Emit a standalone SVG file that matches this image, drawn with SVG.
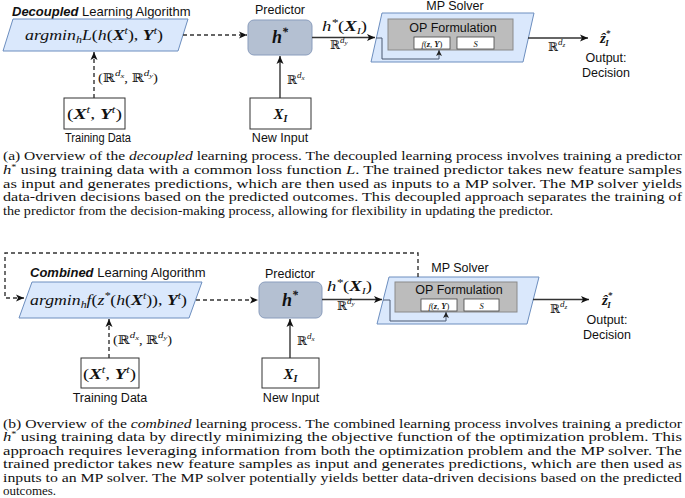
<svg xmlns="http://www.w3.org/2000/svg" width="685" height="498" viewBox="0 0 685 498">
<style>
.lbl{font-family:"Liberation Sans",Arial,sans-serif;font-size:12.5px;fill:#111}
.ttl{font-family:"Liberation Sans",Arial,sans-serif;font-size:13px;fill:#111}
.m{font-family:"Liberation Serif","DejaVu Serif",serif;font-style:italic;fill:#111}
.u{font-style:normal}
.b{font-weight:bold}
.R{font-family:"DejaVu Serif","Liberation Serif",serif;font-style:normal;font-size:12px}
.cap{font-family:"Liberation Serif","Times New Roman",serif;font-size:13px;fill:#111}
.sh{fill:#dae8fc;stroke:#6c8ebf;stroke-width:1}
.pred{fill:#b4c0d2;stroke:#8a9dbd;stroke-width:1}
.op{fill:#bcbcbc;stroke:#8a8a8a;stroke-width:1}
.wb{fill:#fff;stroke:#333;stroke-width:1}
.sb{fill:#fff;stroke:#444;stroke-width:0.8}
.c{stroke:#333;stroke-width:1.4;fill:none}
.ci{stroke:#4a5870;stroke-width:1;fill:none}
.d{stroke-dasharray:4 3}
</style>
<defs>
<marker id="ah" markerUnits="userSpaceOnUse" markerWidth="9" markerHeight="8" refX="8" refY="4" orient="auto">
<path d="M0,0.5 L8,4 L0,7.5 L2,4 Z" fill="#111"/>
</marker>
<marker id="as" markerUnits="userSpaceOnUse" markerWidth="7" markerHeight="6" refX="6" refY="3" orient="auto">
<path d="M0,0 L6,3 L0,6 L1.5,3 Z" fill="#222"/>
</marker>
</defs>

<!-- ================= TOP (a) ================= -->
<g id="a-learning">
<text class="ttl" x="12" y="16"><tspan class="b" font-style="italic">Decoupled</tspan> Learning Algorithm</text>
<polygon class="sh" points="13,19 188,19 178,51 3,51"/>
<text class="m" x="94" y="40" font-size="15" text-anchor="middle" textLength="138" lengthAdjust="spacingAndGlyphs">argmin<tspan font-size="10" dy="3">h</tspan><tspan dy="-3">L</tspan><tspan class="u">(</tspan>h<tspan class="u">(</tspan><tspan class="b">X</tspan><tspan font-size="10" dy="-6">t</tspan><tspan class="u" dy="6">), </tspan><tspan class="b">Y</tspan><tspan font-size="10" dy="-6">t</tspan><tspan class="u" dy="6">)</tspan></text>
</g>
<g id="a-predictor">
<text class="lbl" x="280" y="14" text-anchor="middle">Predictor</text>
<rect class="pred" x="248" y="20" width="64" height="35" rx="6"/>
<text class="m b" x="280" y="43" font-size="18" text-anchor="middle">h<tspan font-size="12" dy="-7">*</tspan></text>
</g>
<g id="a-solver">
<text class="lbl" x="455" y="10" text-anchor="middle">MP Solver</text>
<polygon class="sh" points="382,13 534,13 523,62 371,62"/>
<rect class="op" x="388" y="19" width="125" height="31"/>
<text class="lbl" x="453" y="32" font-size="12.8" text-anchor="middle">OP Formulation</text>
<rect class="sb" x="414" y="37" width="36" height="12"/>
<text class="m" x="432" y="46.5" font-size="8.5" text-anchor="middle">f<tspan class="u">(</tspan><tspan class="b">z</tspan><tspan class="u">, </tspan><tspan class="b">Y</tspan><tspan class="u">)</tspan></text>
<rect class="sb" x="457" y="37" width="37" height="12"/>
<text class="m" x="475.5" y="46.5" font-size="8.5" text-anchor="middle">S</text>
</g>
<g id="a-output">
<text class="m b" x="600" y="43" font-size="15">ẑ<tspan font-size="9" dy="-7">*</tspan><tspan font-size="9" dx="-5" dy="10">I</tspan></text>
<text class="lbl" x="606" y="62" text-anchor="middle">Output:</text>
<text class="lbl" x="606" y="77" text-anchor="middle">Decision</text>
</g>
<g id="a-training">
<rect class="wb" x="64" y="98" width="61" height="31"/>
<text class="m" x="94.5" y="119" font-size="15" text-anchor="middle" textLength="55" lengthAdjust="spacingAndGlyphs"><tspan class="u">(</tspan><tspan class="b">X</tspan><tspan font-size="10" dy="-6">t</tspan><tspan class="u" dy="6">, </tspan><tspan class="b">Y</tspan><tspan font-size="10" dy="-6">t</tspan><tspan class="u" dy="6">)</tspan></text>
<text class="lbl" x="98" y="142" text-anchor="middle" textLength="66" lengthAdjust="spacingAndGlyphs">Training Data</text>
</g>
<g id="a-input">
<rect class="wb" x="250" y="98" width="61" height="31"/>
<text class="m b" x="280.5" y="119" font-size="15" text-anchor="middle">X<tspan font-size="10" dy="3">I</tspan></text>
<text class="lbl" x="280" y="142" text-anchor="middle">New Input</text>
</g>
<g id="a-connectors">
<path class="c d" d="M183,35 H247" marker-end="url(#ah)"/>
<path class="c" d="M312,37.5 H375" marker-end="url(#ah)"/>
<path class="ci" d="M376,38 H382 V59 H439 V50" marker-end="url(#as)"/>
<path class="c" d="M528,38 H588" marker-end="url(#ah)"/>
<path class="c" d="M280,98 V56" marker-end="url(#ah)"/>
<path class="c d" d="M94,98 V52" marker-end="url(#ah)"/>
<text class="m" x="344.5" y="31" font-size="14" text-anchor="middle" textLength="45" lengthAdjust="spacingAndGlyphs">h<tspan font-size="10" dy="-5">*</tspan><tspan class="u" dy="5">(</tspan><tspan class="b">X</tspan><tspan font-size="9" dy="3">I</tspan><tspan class="u" dy="-3">)</tspan></text>
<text class="m" x="330" y="49" font-size="12"><tspan class="R">ℝ</tspan><tspan font-size="9" dy="-6">d</tspan><tspan font-size="7" dy="2">y</tspan></text>
<text class="m" x="548" y="51" font-size="12"><tspan class="R">ℝ</tspan><tspan font-size="9" dy="-6">d</tspan><tspan font-size="7" dy="2">z</tspan></text>
<text class="m" x="287" y="84" font-size="12"><tspan class="R">ℝ</tspan><tspan font-size="9" dy="-6">d</tspan><tspan font-size="7" dy="2">x</tspan></text>
<text class="m" x="98" y="82" font-size="12" textLength="60" lengthAdjust="spacingAndGlyphs"><tspan class="u">(</tspan><tspan class="R">ℝ</tspan><tspan font-size="9" dy="-6">d</tspan><tspan font-size="7" dy="2">x</tspan><tspan class="u" font-size="12" dy="4">, </tspan><tspan class="R">ℝ</tspan><tspan font-size="9" dy="-6">d</tspan><tspan font-size="7" dy="2">y</tspan><tspan class="u" font-size="12" dy="4">)</tspan></text>
</g>

<g id="a-caption" class="cap">
<text x="3" y="160" textLength="679" lengthAdjust="spacingAndGlyphs">(a) Overview of the <tspan font-style="italic">decoupled</tspan> learning process. The decoupled learning process involves training a predictor</text>
<text x="3" y="174" textLength="679" lengthAdjust="spacingAndGlyphs"><tspan font-style="italic">h</tspan><tspan font-size="8" dy="-4">*</tspan><tspan dy="4"> using training data with a common loss function </tspan><tspan font-style="italic">L</tspan>. The trained predictor takes new feature samples</text>
<text x="3" y="187.5" textLength="679" lengthAdjust="spacingAndGlyphs">as input and generates predictions, which are then used as inputs to a MP solver. The MP solver yields</text>
<text x="3" y="201" textLength="679" lengthAdjust="spacingAndGlyphs">data-driven decisions based on the predicted outcomes. This decoupled approach separates the training of</text>
<text x="3" y="214.5" textLength="550" lengthAdjust="spacingAndGlyphs">the predictor from the decision-making process, allowing for flexibility in updating the predictor.</text>
</g>

<!-- ================= BOTTOM (b) ================= -->
<g id="b-learning">
<text class="ttl" x="30" y="277"><tspan class="b" font-style="italic">Combined</tspan> Learning Algorithm</text>
<polygon class="sh" points="32,282 202,282 189,318 19,318"/>
<text class="m" x="108.5" y="305" font-size="15" text-anchor="middle" textLength="157" lengthAdjust="spacingAndGlyphs">argmin<tspan font-size="10" dy="3">h</tspan><tspan dy="-3">f</tspan><tspan class="u">(</tspan>z<tspan font-size="10" dy="-6">*</tspan><tspan class="u" dy="6">(</tspan>h<tspan class="u">(</tspan><tspan class="b">X</tspan><tspan font-size="10" dy="-6">t</tspan><tspan class="u" dy="6">)), </tspan><tspan class="b">Y</tspan><tspan font-size="10" dy="-6">t</tspan><tspan class="u" dy="6">)</tspan></text>
</g>
<g id="b-predictor">
<text class="lbl" x="290" y="278" text-anchor="middle">Predictor</text>
<rect class="pred" x="259" y="282" width="63" height="36" rx="6"/>
<text class="m b" x="290" y="306" font-size="18" text-anchor="middle">h<tspan font-size="12" dy="-7">*</tspan></text>
</g>
<g id="b-solver">
<text class="lbl" x="460" y="272" text-anchor="middle">MP Solver</text>
<polygon class="sh" points="389,277 539,277 527,324 377,324"/>
<rect class="op" x="395" y="282" width="122" height="30"/>
<text class="lbl" x="459" y="294" font-size="12.8" text-anchor="middle">OP Formulation</text>
<rect class="sb" x="421" y="299" width="36" height="12"/>
<text class="m" x="439" y="308.5" font-size="8.5" text-anchor="middle">f<tspan class="u">(</tspan><tspan class="b">z</tspan><tspan class="u">, </tspan><tspan class="b">Y</tspan><tspan class="u">)</tspan></text>
<rect class="sb" x="464" y="299" width="35" height="12"/>
<text class="m" x="481.5" y="308.5" font-size="8.5" text-anchor="middle">S</text>
</g>
<g id="b-output">
<text class="m b" x="602" y="305" font-size="15">ẑ<tspan font-size="9" dy="-7">*</tspan><tspan font-size="9" dx="-5" dy="10">I</tspan></text>
<text class="lbl" x="607" y="324" text-anchor="middle">Output:</text>
<text class="lbl" x="607" y="339" text-anchor="middle">Decision</text>
</g>
<g id="b-training">
<rect class="wb" x="81" y="358" width="58" height="30"/>
<text class="m" x="109.5" y="379" font-size="15" text-anchor="middle" textLength="53" lengthAdjust="spacingAndGlyphs"><tspan class="u">(</tspan><tspan class="b">X</tspan><tspan font-size="10" dy="-6">t</tspan><tspan class="u" dy="6">, </tspan><tspan class="b">Y</tspan><tspan font-size="10" dy="-6">t</tspan><tspan class="u" dy="6">)</tspan></text>
<text class="lbl" x="110" y="402" text-anchor="middle">Training Data</text>
</g>
<g id="b-input">
<rect class="wb" x="262" y="358" width="57" height="30"/>
<text class="m b" x="290.5" y="379" font-size="15" text-anchor="middle">X<tspan font-size="10" dy="3">I</tspan></text>
<text class="lbl" x="291" y="402" text-anchor="middle">New Input</text>
</g>
<g id="b-connectors">
<path class="c d" d="M418,277 V253 H5 V298 H24" marker-end="url(#ah)"/>
<path class="c d" d="M196,300 H258" marker-end="url(#ah)"/>
<path class="c" d="M322,299.5 H382" marker-end="url(#ah)"/>
<path class="ci" d="M383,300 H390 V321 H446 V312" marker-end="url(#as)"/>
<path class="c" d="M533,299.5 H589" marker-end="url(#ah)"/>
<path class="c" d="M290,358 V319" marker-end="url(#ah)"/>
<path class="c d" d="M109,358 V319" marker-end="url(#ah)"/>
<text class="m" x="349.5" y="291" font-size="14" text-anchor="middle" textLength="45" lengthAdjust="spacingAndGlyphs">h<tspan font-size="10" dy="-5">*</tspan><tspan class="u" dy="5">(</tspan><tspan class="b">X</tspan><tspan font-size="9" dy="3">I</tspan><tspan class="u" dy="-3">)</tspan></text>
<text class="m" x="337" y="310" font-size="12"><tspan class="R">ℝ</tspan><tspan font-size="9" dy="-6">d</tspan><tspan font-size="7" dy="2">y</tspan></text>
<text class="m" x="550" y="313" font-size="12"><tspan class="R">ℝ</tspan><tspan font-size="9" dy="-6">d</tspan><tspan font-size="7" dy="2">z</tspan></text>
<text class="m" x="297" y="345" font-size="12"><tspan class="R">ℝ</tspan><tspan font-size="9" dy="-6">d</tspan><tspan font-size="7" dy="2">x</tspan></text>
<text class="m" x="113" y="344" font-size="12" textLength="59" lengthAdjust="spacingAndGlyphs"><tspan class="u">(</tspan><tspan class="R">ℝ</tspan><tspan font-size="9" dy="-6">d</tspan><tspan font-size="7" dy="2">x</tspan><tspan class="u" font-size="12" dy="4">, </tspan><tspan class="R">ℝ</tspan><tspan font-size="9" dy="-6">d</tspan><tspan font-size="7" dy="2">y</tspan><tspan class="u" font-size="12" dy="4">)</tspan></text>
</g>

<g id="b-caption" class="cap">
<text x="3" y="427.5" textLength="679" lengthAdjust="spacingAndGlyphs">(b) Overview of the <tspan font-style="italic">combined</tspan> learning process. The combined learning process involves training a predictor</text>
<text x="3" y="441" textLength="679" lengthAdjust="spacingAndGlyphs"><tspan font-style="italic">h</tspan><tspan font-size="8" dy="-4">*</tspan><tspan dy="4"> using training data by directly minimizing the objective function of the optimization problem. This</tspan></text>
<text x="3" y="454.5" textLength="679" lengthAdjust="spacingAndGlyphs">approach requires leveraging information from both the optimization problem and the MP solver. The</text>
<text x="3" y="468" textLength="679" lengthAdjust="spacingAndGlyphs">trained predictor takes new feature samples as input and generates predictions, which are then used as</text>
<text x="3" y="481.5" textLength="679" lengthAdjust="spacingAndGlyphs">inputs to an MP solver. The MP solver potentially yields better data-driven decisions based on the predicted</text>
<text x="3" y="495">outcomes.</text>
</g>
</svg>
